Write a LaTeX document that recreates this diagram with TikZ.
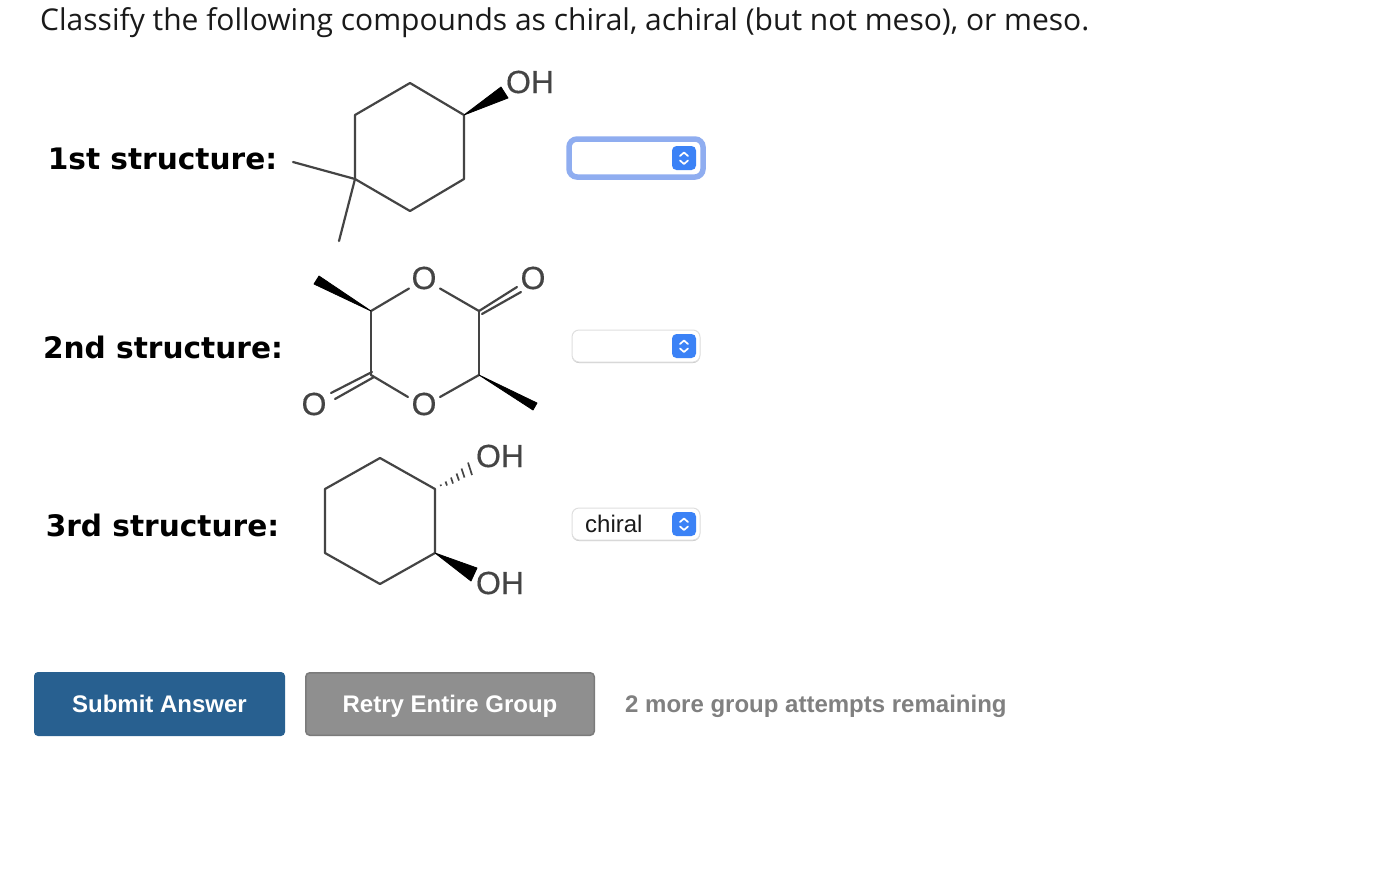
\documentclass[tikz,border=0pt]{standalone}
\usepackage{fontspec}
\setmainfont{Open Sans}
\newfontfamily\labelfont{DejaVu Sans}
\newfontfamily\btnfont{Liberation Sans}
\newfontfamily\atomfont[FakeBold=0.35]{Liberation Sans}
\definecolor{bondc}{HTML}{444444}
\definecolor{submitc}{HTML}{286090}
\definecolor{retryc}{HTML}{8F8F8F}
\definecolor{retryb}{HTML}{7B7B7B}
\definecolor{iconc}{HTML}{3B82F6}
\definecolor{ringc}{HTML}{8FADF0}
\definecolor{selb}{HTML}{DFDFDF}
\definecolor{selshadow}{HTML}{C4C4C4}
\definecolor{infoc}{HTML}{808080}
\definecolor{titlec}{HTML}{1A1A1A}
\tikzset{
  x=1pt,y=-1pt,
  bond/.style={draw=bondc,line width=2.2pt,line cap=round},
  wedge/.style={fill=black,draw=black,line width=0.8pt,line join=round},
  hashb/.style={draw=bondc,line width=1.7pt},
  atom/.style={inner sep=0pt,font=\atomfont\fontsize{32}{32}\selectfont,text=bondc},
  qlabel/.style={inner sep=0pt,font=\labelfont\bfseries\fontsize{29.6}{29.6}\selectfont,text=black},
  selshade/.style={fill=selshadow,draw=none,rounded corners=7pt},
  selbox/.style={draw=selb,line width=1pt,fill=white,rounded corners=7pt},
  selicon/.style={fill=iconc,draw=none,rounded corners=4.5pt},
  chev/.style={draw=white,line width=1.7pt,line cap=round,line join=round},
  btn/.style={rounded corners=4pt,inner sep=0pt,font=\btnfont\bfseries\fontsize{24}{24}\selectfont,text=white,text height=17pt,text depth=0pt},
}
\begin{document}
\begin{tikzpicture}
\useasboundingbox (0,0) rectangle (1378,892);
\fill[white] (0,0) rectangle (1378,892);

\node[anchor=base west,inner sep=0pt,text=titlec,font=\fontsize{30}{30}\selectfont] (title) at (40,30) {Classify the following compounds as chiral, achiral (but not meso), or meso.};

\node[qlabel] (q1) at (162.5,159) {1st structure:};
\node[qlabel] (q2) at (163,347) {2nd structure:};
\node[qlabel] (q3) at (162.5,525) {3rd structure:};

% molecule 1
\coordinate (a1) at (410,83);
\coordinate (a2) at (464,115);
\coordinate (a3) at (464,179);
\coordinate (a4) at (410,211);
\coordinate (a5) at (355,179);
\coordinate (a6) at (355,115);
\coordinate (a7) at (293,162);
\coordinate (a8) at (339,241);
\coordinate (a9) at (501,87);
\coordinate (a10) at (508,98);
\node[atom] (aoh) at (530,82) {OH};
\draw[bond,line join=round] (a1)--(a2)--(a3)--(a4)--(a5)--(a6)--cycle;
\draw[bond] (a5)--(a7);
\draw[bond] (a5)--(a8);
\filldraw[wedge] (a2)--(a9)--(a10)--cycle;

% molecule 2
\coordinate (b1) at (371,311);
\coordinate (b2) at (479,311);
\coordinate (b3) at (479,375);
\coordinate (b4) at (371,375);
\node[atom] (bo1) at (424,278) {O};
\node[atom] (bo2) at (424,404) {O};
\node[atom] (bo3) at (533,278) {O};
\node[atom] (bo4) at (314,404) {O};
\coordinate (b1a) at (409,288.5);
\coordinate (b2a) at (440,288.5);
\coordinate (b3a) at (440,397);
\coordinate (b4a) at (408,397);
\coordinate (d1a) at (479,311);
\coordinate (d1b) at (517,287);
\coordinate (d2a) at (482,314);
\coordinate (d2b) at (521,292);
\coordinate (d3a) at (372,372);
\coordinate (d3b) at (331,393);
\coordinate (d4a) at (374,377);
\coordinate (d4b) at (335,399);
\coordinate (w1a) at (314,284);
\coordinate (w1b) at (319,276);
\coordinate (w2a) at (533,410);
\coordinate (w2b) at (537,403);
\draw[bond] (b1)--(b4);
\draw[bond] (b2)--(b3);
\draw[bond] (b1)--(b1a);
\draw[bond] (b2)--(b2a);
\draw[bond] (b3)--(b3a);
\draw[bond] (b4)--(b4a);
\draw[bond] (d1a)--(d1b);
\draw[bond] (d2a)--(d2b);
\draw[bond] (d3a)--(d3b);
\draw[bond] (d4a)--(d4b);
\filldraw[wedge] (b1)--(w1a)--(w1b)--cycle;
\filldraw[wedge] (b3)--(w2a)--(w2b)--cycle;

% molecule 3
\coordinate (c1) at (380,458);
\coordinate (c2) at (435,489);
\coordinate (c3) at (435,553);
\coordinate (c4) at (380,584);
\coordinate (c5) at (325,553);
\coordinate (c6) at (325,489);
\coordinate (c7) at (477,568);
\coordinate (c8) at (471,581);
\node[atom] (coh1) at (500,456) {OH};
\node[atom] (coh2) at (500,583) {OH};
\draw[bond,line join=round] (c1)--(c2)--(c3)--(c4)--(c5)--(c6)--cycle;
\filldraw[wedge] (c3)--(c7)--(c8)--cycle;
\foreach \xa/\ya/\xb/\yb in {441/486/440.5/484.5, 447/485.5/445.5/481.5, 453/483.5/451/477.5, 459/480.5/456.5/473.5, 464.5/477.5/461.5/468.5, 472/475/468/462.5}
  \draw[hashb] (\xa,\ya)--(\xb,\yb);

% selects
\draw[draw=ringc,line width=5.5pt,fill=white,rounded corners=8pt] (569,139) rectangle (703,177);
\fill[selicon] (672,146) rectangle (696,170);
\draw[chev] (680,156)--(684,152.5)--(688,156);
\draw[chev] (680,160.5)--(684,164)--(688,160.5);

\fill[selshade] (572,331) rectangle (700,363);
\draw[selbox] (572,330) rectangle (700,362);
\fill[selicon] (672,334) rectangle (696,358);
\draw[chev] (680,344)--(684,340.5)--(688,344);
\draw[chev] (680,348.5)--(684,352)--(688,348.5);

\fill[selshade] (572,509) rectangle (700,541);
\draw[selbox] (572,508) rectangle (700,540);
\fill[selicon] (672,512) rectangle (696,536);
\draw[chev] (680,522)--(684,518.5)--(688,522);
\draw[chev] (680,526.5)--(684,530)--(688,526.5);
\node[anchor=base west,inner sep=0pt,text=titlec,font=\btnfont\fontsize{24}{24}\selectfont] (sel3) at (585,532.5) {chiral};

% buttons
\node[btn,fill=submitc,minimum width=251pt,minimum height=64pt] (submit) at (159.5,704) {Submit Answer};
\node[btn,fill=retryc,draw=retryb,line width=1.5pt,minimum width=288.5pt,minimum height=62.5pt] (retry) at (450,704) {Retry Entire Group};
\node[anchor=base west,inner sep=0pt,text=infoc,font=\btnfont\bfseries\fontsize{24}{24}\selectfont] (info) at (625,712.5) {2 more group attempts remaining};
\end{tikzpicture}
\end{document}
